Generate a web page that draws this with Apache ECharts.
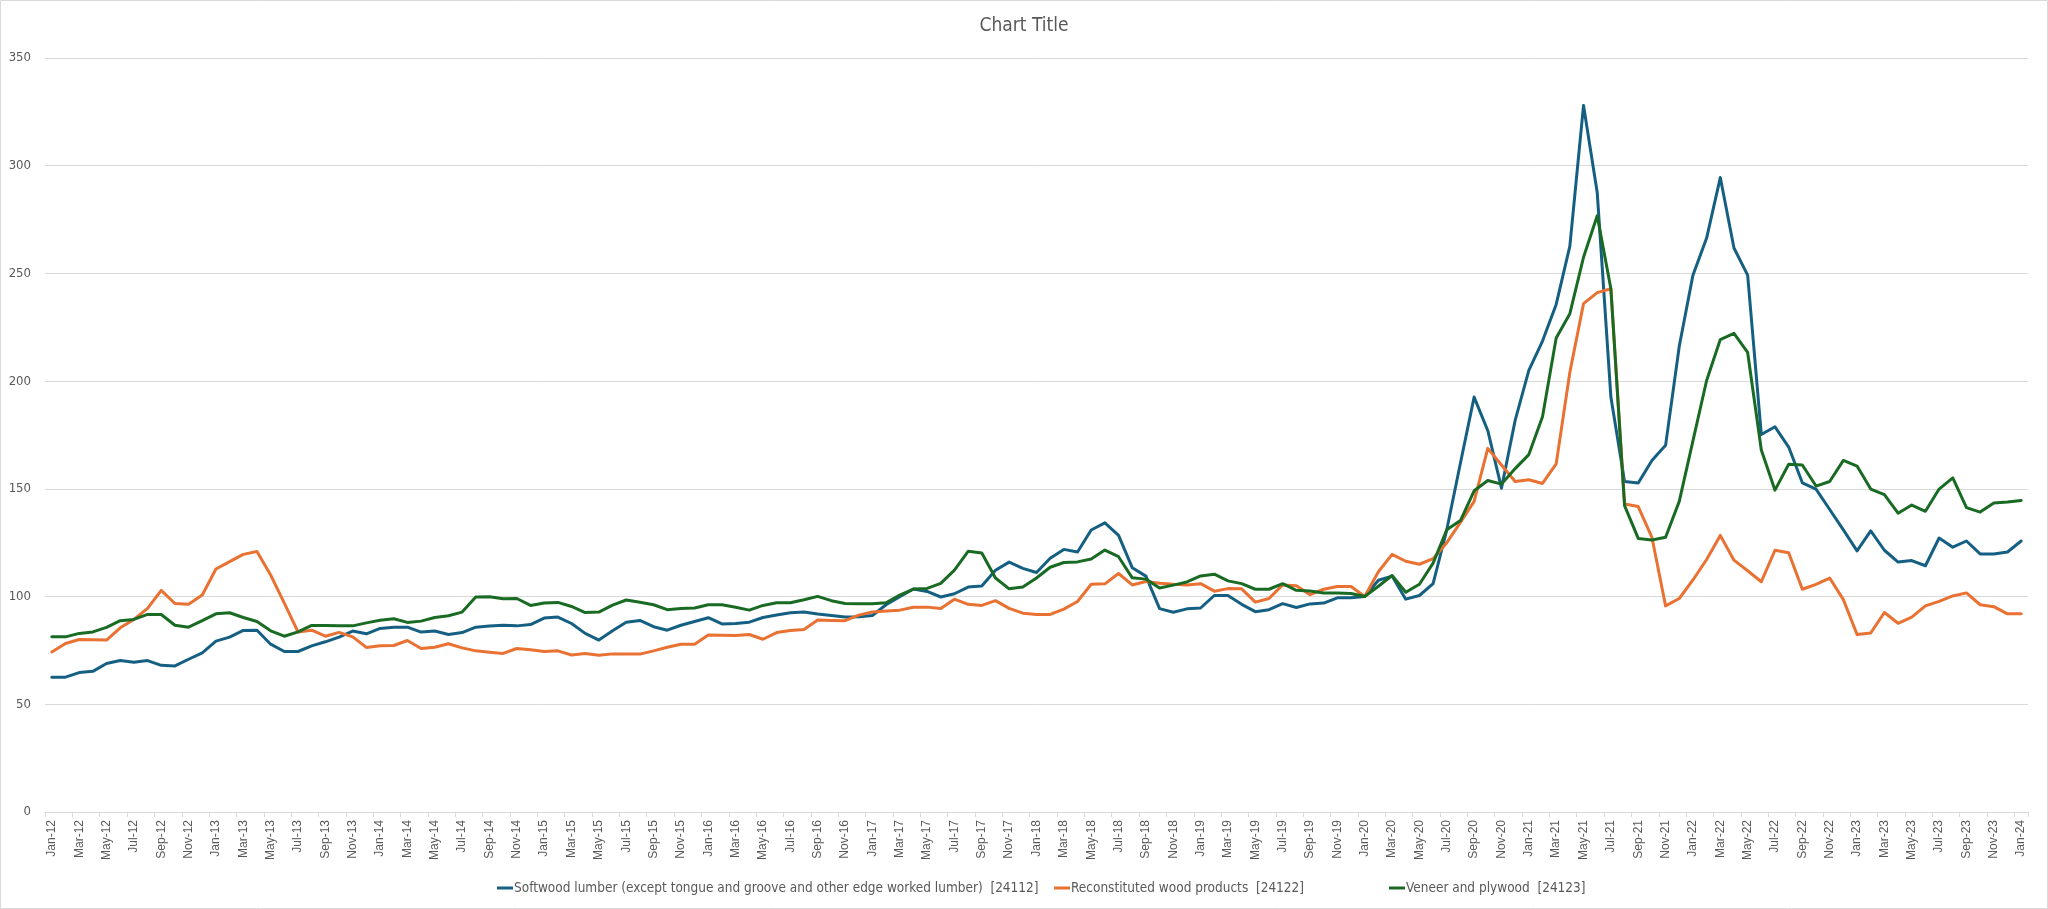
<!DOCTYPE html>
<html>
<head>
<meta charset="utf-8">
<script src="https://cdn.jsdelivr.net/npm/echarts@6/dist/echarts.min.js"></script>
<style>
  html, body { margin: 0; padding: 0; background: #fff; }
  #chart { width: 2048px; height: 909px; }
</style>
</head>
<body>
<div id="chart"></div>
<script>
// month labels Jan-12 .. Jan-24
var monthNames = ['Jan','Feb','Mar','Apr','May','Jun','Jul','Aug','Sep','Oct','Nov','Dec'];
var firstYear = 12, lastYear = 24;

var seriesNames = [
  'Softwood lumber (except tongue and groove and other edge worked lumber)  [24112]',
  'Reconstituted wood products  [24122]',
  'Veneer and plywood  [24123]'
];

var softwood = [
  62.6,62.6,64.7,65.3,68.9,70.3,69.5,70.3,68.1,67.8,70.9,73.9,
  79.3,81.2,84.3,84.4,77.9,74.5,74.5,77.1,79,81.2,84,82.7,
  85.2,85.8,85.8,83.5,84,82.4,83.3,85.8,86.3,86.7,86.4,87,
  90,90.5,87.5,82.9,79.8,84.1,88.1,88.9,86,84.4,86.7,88.4,
  90.2,87.3,87.5,88.1,90.3,91.4,92.5,92.8,91.9,91.2,90.5,90.6,
  91.2,96.2,99.9,103.5,102.4,99.8,101.3,104.4,104.9,112.2,116,113.1,
  111.2,117.8,121.9,120.7,130.9,134.2,128.4,113.4,109.5,94.4,92.7,94.3,
  94.7,100.5,100.5,96.4,93,93.9,96.7,94.9,96.6,97,99.4,99.5,
  100,107.6,109.5,98.8,100.5,106,131,162,192.6,177,150.3,181.8,
  205,218.6,235.6,262.7,328,287.6,192.6,153.4,152.7,163.2,170.2,216.2,
  249.2,266.4,294.5,261.8,249.2,175.2,178.8,169.4,152.8,149.9,140.4,131,
  121.2,130.5,121.5,116,116.7,114.3,127.2,122.9,125.8,119.8,119.8,120.7,
  125.8
];

var reconstituted = [
  74.3,78.2,80.1,79.9,79.8,85.5,89.4,94.5,102.9,96.8,96.4,100.7,
  112.8,116.2,119.6,120.9,110,97,83.6,84.4,81.6,83.4,81.3,76.4,
  77.2,77.3,79.6,75.9,76.5,78.1,76.2,74.8,74.2,73.6,75.9,75.3,
  74.5,74.8,72.9,73.6,72.8,73.4,73.3,73.3,74.8,76.5,77.9,77.9,
  82.2,82.1,81.9,82.4,80.2,83.3,84.3,84.7,89.1,88.9,88.8,91.4,
  92.8,93.3,93.7,95,95.1,94.5,98.8,96.4,95.9,98.1,94.5,92.3,
  91.7,91.7,94.2,97.7,105.7,105.9,110.7,105.4,107,106.2,105.7,105.4,
  106,102.5,103.7,103.6,97.4,99.1,105.4,105,100.9,103.4,104.7,104.7,
  100,111.5,119.6,116.4,115,117.6,125,134.4,144.2,168.8,161.1,153.4,
  154.2,152.5,161.6,204.1,236,241.1,242.9,143,141.8,127.5,95.7,99.1,
  107.7,117.2,128.4,116.9,112,106.9,121.5,120.3,103.4,105.7,108.6,98.6,
  82.4,83.1,92.6,87.6,90.5,95.7,97.8,100.3,101.7,96.2,95.3,92,
  92
];

var veneer = [
  81.3,81.3,82.9,83.6,85.7,88.8,89.4,91.7,91.7,86.7,85.8,88.8,
  92,92.5,90.3,88.4,84.1,81.6,83.6,86.6,86.6,86.4,86.4,87.8,
  89,89.7,88,88.6,90.3,91.1,92.8,99.8,99.9,99,99.1,95.9,
  97,97.3,95.4,92.6,92.8,96,98.4,97.4,96.2,93.9,94.5,94.7,
  96.2,96.2,95,93.7,95.9,97.1,97.1,98.5,100.1,98.1,96.8,96.7,
  96.7,97.1,100.7,103.5,103.8,106.1,112.3,121,120.2,108.6,103.6,104.4,
  108.6,113.6,115.8,116.1,117.4,121.6,118.5,108.7,108.1,104,105.3,106.8,
  109.6,110.4,107.3,106,103.4,103.4,106,102.9,102.6,101.7,101.7,101.4,
  100,104.8,109.8,102,105.7,115.5,131,135.3,149.1,153.9,152.2,159.4,
  165.9,183.5,220,231.3,257.5,276.8,242.9,142.2,127,126.3,127.5,144.2,
  172.3,200.3,219.3,222.2,213.3,168,149.4,161.4,161.1,151.3,153.4,163.2,
  160.6,149.9,147.3,138.7,142.5,139.6,149.9,155.1,141.3,139.2,143.4,143.9,
  144.6
];

var seriesColors = ['#156082', '#E97132', '#196B24'];

var categories = [];
for (var y = firstYear; y <= lastYear; y++) {
  for (var m = 0; m < 12; m++) {
    if (y === lastYear && m > 0) break;
    categories.push(monthNames[m] + '-' + y);
  }
}

var txt = '#595959';
var narrow = '"Liberation Sans Narrow", "DejaVu Sans Condensed", sans-serif';

var mkLine = function(idx, data) {
  return {
    name: seriesNames[idx],
    type: 'line',
    data: data,
    showSymbol: false,
    symbol: 'none',
    lineStyle: { width: 3, color: seriesColors[idx], join: 'round', cap: 'round' },
    itemStyle: { color: seriesColors[idx] },
    animation: false
  };
};

// one legend per entry so each sits where Excel put it
var legendLeft = [492, 1049, 1384];
var mkLegend = function(idx) {
  return {
    top: 876,
    left: legendLeft[idx],
    icon: 'rect',
    itemWidth: 16,
    itemHeight: 3,
    textStyle: { fontFamily: narrow, fontSize: 13.5, color: txt, padding: [0, 0, 0, -4] },
    data: [seriesNames[idx]]
  };
};

var myChart = echarts.init(document.getElementById('chart'));
myChart.setOption({
  backgroundColor: '#fff',
  animation: false,
  graphic: [{
    type: 'rect',
    shape: { x: 0.5, y: 0.5, width: 2047, height: 908 },
    style: { fill: 'none', stroke: '#d9d9d9', lineWidth: 1 },
    silent: true
  }],
  title: {
    text: 'Chart Title',
    left: 'center',
    top: 12,
    textStyle: { fontFamily: narrow, fontSize: 19, fontWeight: 'normal', color: txt }
  },
  legend: [mkLegend(0), mkLegend(1), mkLegend(2)],
  grid: { left: 45, right: 20, top: 58, bottom: 97, containLabel: false },
  xAxis: {
    type: 'category',
    data: categories,
    boundaryGap: true,
    axisLine: { lineStyle: { color: '#d9d9d9', width: 1 } },
    axisTick: { show: true, interval: 1, length: 5, lineStyle: { color: '#d9d9d9' } },
    axisLabel: {
      interval: 1,
      rotate: 90,
      margin: 8,
      fontFamily: '"Liberation Sans", Arial, sans-serif',
      fontSize: 12,
      color: txt
    }
  },
  yAxis: {
    type: 'value',
    min: 0,
    max: 350,
    interval: 50,
    axisLine: { show: false },
    axisTick: { show: false },
    splitLine: { lineStyle: { color: '#d9d9d9', width: 1 } },
    axisLabel: { fontFamily: narrow, fontSize: 13, color: txt, margin: 14 }
  },
  series: [
    mkLine(0, softwood),
    mkLine(1, reconstituted),
    mkLine(2, veneer)
  ]
});
</script>
</body>
</html>
